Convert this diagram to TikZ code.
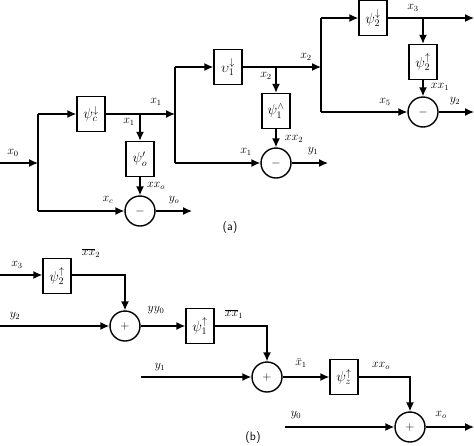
\documentclass[tikz,border=0pt]{standalone}
\usepackage{amssymb}
\usetikzlibrary{arrows.meta, positioning, calc}
\tikzset{%
  block/.style={draw, line width=1.4pt, minimum width=28pt, minimum height=35pt, inner sep=0pt, font=\Large},
  sum/.style={draw, circle, line width=1.4pt, minimum size=30pt, inner sep=0pt, font=\large},
  wire/.style={line width=1.4pt},
  sig/.style={wire, -{Latex[length=9pt,width=8pt]}},
  lbl/.style={inner sep=1pt, font=\large}
}
\begin{document}
\begin{tikzpicture}[x=1pt,y=-1pt]
  \useasboundingbox (0,0) rectangle (474,445);

  % (a) stage 0
  \coordinate (in0) at (0,163);
  \coordinate (br0) at (38,163);
  \coordinate (br0t) at (38,114);
  \coordinate (br0b) at (38,211);
  \node[block] (p0d) at (91,114) {$\psi_c^{\downarrow}$};
  \coordinate (b0) at (140,114);
  \node[block] (p0u) at (140,159) {$\psi_o^{\prime}$};
  \node[sum] (s0) at (140,211) {$-$};
  \coordinate (y0e) at (192,211);
  \node[lbl] (lx0) at (13,153) {$x_0$};
  \node[lbl] (lx1a) at (156,102) {$x_1$};
  \node[lbl] (lx1b) at (129,122) {$x_1$};
  \node[lbl] (lxx0) at (156,186) {$xx_o$};
  \node[lbl] (lxc) at (108,200) {$x_c$};
  \node[lbl] (ly0) at (174,200) {$y_o$};

  % (a) stage 1
  \coordinate (br1t) at (175,67);
  \coordinate (br1b) at (175,163);
  \coordinate (br1) at (175,114);
  \node[block] (p1d) at (228,67) {$\upsilon_1^{\downarrow}$};
  \coordinate (b1) at (276,67);
  \node[block] (p1u) at (276,111) {$\psi_1^{\wedge}$};
  \node[sum] (s1) at (276,163) {$-$};
  \coordinate (y1e) at (328,163);
  \node[lbl] (lx2a) at (306,57) {$x_2$};
  \node[lbl] (lx2b) at (266,76) {$x_2$};
  \node[lbl] (lxx2) at (294,139) {$xx_2$};
  \node[lbl] (lx1c) at (246,152) {$x_1$};
  \node[lbl] (ly1) at (313,151) {$y_1$};

  % (a) stage 2
  \coordinate (br2t) at (321,18);
  \coordinate (br2b) at (321,112);
  \coordinate (br2) at (321,67);
  \node[block] (p2d) at (373,18) {$\psi_2^{\downarrow}$};
  \coordinate (b2) at (423,18);
  \coordinate (x3e) at (474,18);
  \node[block] (p2u) at (423,62) {$\psi_2^{\uparrow}$};
  \node[sum] (s2) at (423,112) {$-$};
  \coordinate (y2e) at (474,112);
  \node[lbl] (lx3) at (413,8) {$x_3$};
  \node[lbl] (lxx1) at (440,87) {$xx_1$};
  \node[lbl] (lx5) at (385,102) {$x_5$};
  \node[lbl] (ly2) at (455,101) {$y_2$};

  \node[font=\large\sffamily] (capa) at (230,228) {(a)};

  \draw[sig] (in0) -- (br0);
  \draw[wire] (br0t) -- (br0b);
  \draw[sig] (br0t) -- (p0d);
  \draw[sig] (p0d) -- (br1);
  \draw[sig] (b0) -- (p0u);
  \draw[sig] (p0u) -- (s0);
  \draw[sig] (br0b) -- (s0);
  \draw[sig] (s0) -- (y0e);

  \draw[wire] (br1t) -- (br1b);
  \draw[sig] (br1t) -- (p1d);
  \draw[sig] (p1d) -- (br2);
  \draw[sig] (b1) -- (p1u);
  \draw[sig] (p1u) -- (s1);
  \draw[sig] (br1b) -- (s1);
  \draw[sig] (s1) -- (y1e);

  \draw[wire] (br2t) -- (br2b);
  \draw[sig] (br2t) -- (p2d);
  \draw[sig] (p2d) -- (x3e);
  \draw[sig] (b2) -- (p2u);
  \draw[sig] (p2u) -- (s2);
  \draw[sig] (br2b) -- (s2);
  \draw[sig] (s2) -- (y2e);

  % (b) synthesis
  \coordinate (in3) at (0,275);
  \node[block] (q2) at (57,276) {$\psi_2^{\uparrow}$};
  \node[sum] (t2) at (125,326) {$+$};
  \coordinate (in2) at (0,326);
  \node[block] (q1) at (200,326) {$\psi_1^{\uparrow}$};
  \node[sum] (t1) at (267,377) {$+$};
  \coordinate (in1) at (141,377);
  \node[block] (q0) at (344,377) {$\psi_z^{\uparrow}$};
  \node[sum] (t0) at (410,427) {$+$};
  \coordinate (inb0) at (285,427);
  \coordinate (xoe) at (474,427);
  \node[lbl] (lx3b) at (17,265) {$x_3$};
  \node[lbl] (lxxb2) at (91,253) {$\overline{xx}_2$};
  \node[lbl] (ly2b) at (15,316) {$y_2$};
  \node[lbl] (lyy0) at (156,310) {$yy_0$};
  \node[lbl] (lxxb1) at (234,314) {$\overline{xx}_1$};
  \node[lbl] (ly1b) at (160,367) {$y_1$};
  \node[lbl] (lxb1) at (301,363) {$\bar{x}_1$};
  \node[lbl] (lxx0b) at (381,366) {$xx_o$};
  \node[lbl] (ly0b) at (296,415) {$y_0$};
  \node[lbl] (lxo) at (441,415) {$x_o$};

  \node[font=\large\sffamily] (capb) at (253,437) {(b)};

  \draw[sig] (in3) -- (in3 -| q2.west);
  \draw[sig] (q2.east |- in3) -| (t2);
  \draw[sig] (in2) -- (t2);
  \draw[sig] (t2) -- (q1);
  \draw[sig] (q1) -| (t1);
  \draw[sig] (in1) -- (t1);
  \draw[sig] (t1) -- (q0);
  \draw[sig] (q0) -| (t0);
  \draw[sig] (inb0) -- (t0);
  \draw[sig] (t0) -- (xoe);
\end{tikzpicture}
\end{document}
